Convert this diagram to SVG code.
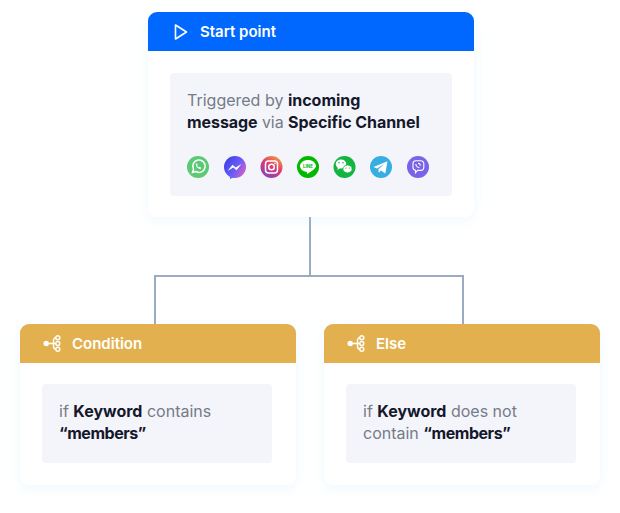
<svg xmlns="http://www.w3.org/2000/svg" width="620" height="513" viewBox="0 0 620 513">
<style>
text{font-family:Inter,"Liberation Sans",sans-serif}
.h{font-size:15px;font-weight:600;fill:#fff}
.t{font-size:16px;fill:#767b87}
.b{font-weight:700;fill:#15182b}
.q{letter-spacing:-.45px}
.card{fill:#fff;filter:url(#sh)}
.inner{fill:#f3f5fa}
.ic{fill:none;stroke:#fff;stroke-width:1.5}
.bt{fill:none;stroke:#fff;stroke-width:1.1}
.conn{fill:none;stroke:#9aabc2;stroke-width:2}
</style>
<defs>
<filter id="sh" x="-15%" y="-15%" width="130%" height="135%"><feDropShadow dx="0" dy="4" stdDeviation="7" flood-color="#a8d8f5" flood-opacity=".18"/></filter>
<linearGradient id="ms2" x1="0" y1=".2" x2="1" y2=".8"><stop offset="0" stop-color="#3a3fe4"/><stop offset=".55" stop-color="#6a5cf8"/><stop offset="1" stop-color="#e060c8"/></linearGradient>
<linearGradient id="ig" x1=".8" y1="0" x2=".2" y2="1"><stop offset="0" stop-color="#f4a13a"/><stop offset=".45" stop-color="#dc3a72"/><stop offset="1" stop-color="#7d45c4"/></linearGradient>
<g id="branch" fill="none" stroke="#fff" stroke-width="1.4"><circle cx="-6.300" cy="0" r="2" fill="#fff"/><circle cx="5.300" cy="-5.800" r="2"/><circle cx="5.300" cy="0" r="2"/><circle cx="5.300" cy="5.800" r="2"/><path d="M-4 0H3.300M3.300-5.800C1-5.800 1-3.800 1-2V2C1 3.800 1 5.800 3.300 5.800"/></g>
</defs>
<g id="connectors">
<path class="conn" d="M310 217V276M155 324V276H463V324"/>
</g>
<g id="start">
<rect class="card" x="148" y="12" width="326" height="205" rx="9"/>
<path d="M148 51V21a9 9 0 0 1 9-9H465a9 9 0 0 1 9 9V51Z" fill="#0068ff"/>
<path d="M175.500 25V39L186.500 32Z" fill="none" stroke="#fff" stroke-width="1.600" stroke-linejoin="round"/>
<text class="h" x="200" y="36.500">Start point</text>
<rect class="inner" x="170" y="73" width="282" height="123" rx="4"/>
<text class="t" x="187" y="106">Triggered by <tspan class="b">incoming</tspan></text>
<text class="t" x="187" y="128" letter-spacing="-.07"><tspan class="b">message</tspan> via <tspan class="b">Specific Channel</tspan></text>
<g id="whatsapp"><circle cx="198" cy="167" r="11" fill="#5cc974"/><path class="ic" d="M192.500 172.500l1-3.400a6.200 6.200 0 1 1 2.300 2.400Z"/><path d="M195.800 164.500c.3 2.500 2 4 4.500 4.700l1-1.500-1.700-1-.8.700c-.8-.4-1.400-1-1.800-1.800l.7-.8-.9-1.700Z" fill="#fff"/></g>
<g id="messenger"><circle cx="235" cy="167" r="11" fill="url(#ms2)"/><path d="M227.500 171l5-6.200 3.200 2.600 5.800-3.400-5 6.200-3.200-2.600Z" fill="#fff"/><path d="M230 175V179L234.500 177Z" fill="#5a6cf5"/></g>
<g id="instagram"><circle cx="271.500" cy="167" r="11" fill="url(#ig)"/><rect class="ic" x="265.500" y="161" width="12" height="12" rx="3"/><circle class="ic" cx="271.500" cy="167" r="2.800"/><circle cx="275" cy="163.500" r=".8" fill="#fff"/></g>
<g id="line"><circle cx="308" cy="167" r="11" fill="#00b900"/><path d="M308 160c-4.400 0-8 2.700-8 6 0 3 2.800 5.400 6.500 5.900.8.200.5 1.600.4 2 1.500-.6 5.300-3 7.300-5 1.100-1.100 1.800-1.800 1.800-2.900 0-3.300-3.600-6-8-6Z" fill="#fff"/><text x="308" y="167.800" text-anchor="middle" font-size="4.500" font-weight="700" fill="#00b900">LINE</text></g>
<g id="wechat"><circle cx="344.500" cy="167" r="11" fill="#14b440"/><ellipse cx="341" cy="164" rx="5.300" ry="4.500" fill="#fff"/><path d="M338 167.500l-.7 2.400 2.600-1.500Z" fill="#fff"/><ellipse cx="347.500" cy="169" rx="4.600" ry="3.900" fill="#fff" stroke="#14b440" stroke-width=".8"/><circle cx="339" cy="162.800" r=".8" fill="#14b440"/><circle cx="343" cy="162.800" r=".8" fill="#14b440"/><circle cx="346" cy="168" r=".6" fill="#14b440"/><circle cx="349.500" cy="168" r=".6" fill="#14b440"/></g>
<g id="telegram"><circle cx="381" cy="167" r="11" fill="#37aee2"/><path d="M373.500 167l14-5.800-2.200 12.300-4.300-3-2.200 2.200-.4-3.500 6-5.200-7.400 4.400Z" fill="#fff"/></g>
<g id="viber"><circle cx="418" cy="167" r="11" fill="#7a63e6"/><path class="bt" d="M415 160.800h6a2.800 2.800 0 0 1 2.800 2.800v4a2.800 2.800 0 0 1-2.800 2.800h-3.500l-2 2.400v-2.500a2.800 2.800 0 0 1-2.500-2.700v-4a2.800 2.800 0 0 1 2.800-2.800Z"/><path class="bt" d="M415.800 164c.2 2 1.300 3.300 3.700 3.800M418 163.300c1.300 0 2.300 1 2.300 2.400"/></g>
</g>
<g id="condition">
<rect class="card" x="20" y="324" width="276" height="161" rx="9"/>
<path d="M20 363V333a9 9 0 0 1 9-9H287a9 9 0 0 1 9 9V363Z" fill="#e3b04f"/>
<use href="#branch" x="52.500" y="343.500"/>
<text class="h" x="72" y="348.500">Condition</text>
<rect class="inner" x="42" y="384" width="230" height="79" rx="4"/>
<text class="t" x="59" y="417">if <tspan class="b">Keyword</tspan> contains</text>
<text class="t b q" x="59" y="439">“members”</text>
</g>
<g id="else">
<rect class="card" x="324" y="324" width="276" height="161" rx="9"/>
<path d="M324 363V333a9 9 0 0 1 9-9H591a9 9 0 0 1 9 9V363Z" fill="#e3b04f"/>
<use href="#branch" x="356.500" y="343.500"/>
<text class="h" x="376" y="348.500">Else</text>
<rect class="inner" x="346" y="384" width="230" height="79" rx="4"/>
<text class="t" x="363" y="417">if <tspan class="b">Keyword</tspan> does not</text>
<text class="t" x="363" y="439">contain <tspan class="b q">“members”</tspan></text>
</g>
</svg>
